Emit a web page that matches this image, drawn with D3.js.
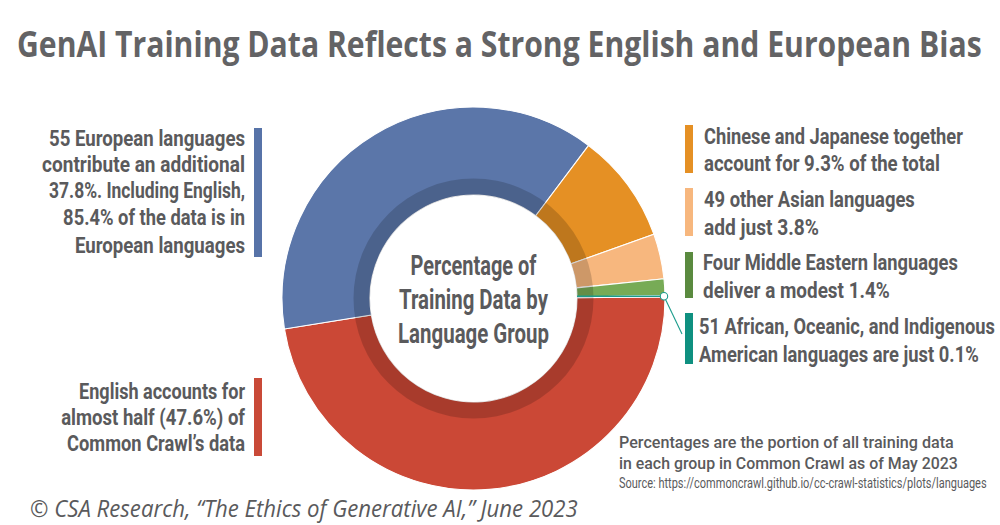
<!DOCTYPE html>
<html><head><meta charset="utf-8">
<script src="https://cdn.jsdelivr.net/npm/d3@7/dist/d3.min.js"></script>
<style>html,body{margin:0;padding:0;background:#fff}svg{display:block}text{font-family:"Open Sans",sans-serif}text.r{font-family:Roboto,sans-serif}</style>
</head><body><svg id="c" width="1000" height="525"></svg>
<script>
const groups=["English","European","Chinese and Japanese","Other Asian","Middle Eastern","African, Oceanic, Indigenous American"];
const shares=[47.6,37.8,9.3,3.8,1.4,0.1];
const sliceColors=["#CB4836","#5B76A9","#E59024","#F7B77E","#77AB56","#1B9C8C"];
const barColors=["#C94A38","#5773A8","#E59024","#F7B77E","#5A8A3F","#0F9080"];
const titleText="GenAI Training Data Reflects a Strong English and European Bias";
const centerLines=["Percentage of","Training Data by","Language Group"];
const calloutLines=[
 ["English accounts for","almost half (47.6%) of","Common Crawl’s data"],
 ["55 European languages","contribute an additional","37.8%. Including English,","85.4% of the data is in","European languages"],
 ["Chinese and Japanese together","account for 9.3% of the total"],
 ["49 other Asian languages","add just 3.8%"],
 ["Four Middle Eastern languages","deliver a modest 1.4%"],
 ["51 African, Oceanic, and Indigenous","American languages are just 0.1%"]];
const noteLines=["Percentages are the portion of all training data","in each group in Common Crawl as of May 2023"];
const sourceText="Source: https://commoncrawl.github.io/cc-crawl-statistics/plots/languages";
const creditText="© CSA Research, “The Ethics of Generative AI,” June 2023";

// layout, kept apart from the data
const ink="#5A5A5C",cx=473.5,cy=298.5,R=191.5,Rm=120,Ri=103.5;
const calloutLayout=[
 {anchor:"end",x:245,base:[399,425,451],w:[166,184,178],bar:[254,378,456]},
 {anchor:"end",x:245,base:[146,172,198,225,253],w:[196,203,196,182,170],bar:[254,128,257]},
 {anchor:"start",x:704,base:[144,171],w:[259,236],bar:[685,125,173]},
 {anchor:"start",x:704,base:[207,235],w:[211,115],bar:[685,188,236]},
 {anchor:"start",x:703,base:[270,298],w:[255,187],bar:[685,252,298]},
 {anchor:"start",x:699,base:[334,362],w:[296,280],bar:[685,313,364]}];

const svg=d3.select("#c");
// draws a line of text and narrows it horizontally to the width it has in the reference
function line(t,x,y,w,size,weight,anchor,style,fill,cls){
 const el=svg.append("text").attr("class",cls||null).attr("text-anchor",anchor||"start")
  .attr("font-size",size).attr("font-weight",weight).attr("font-style",style||"normal")
  .attr("fill",fill||ink).text(t);
 const k=w/el.node().getComputedTextLength();
 el.attr("transform",`translate(${x},${y}) scale(${k},1)`);
 return el;
}
line(titleText,17,57,965,35,700,"start","normal","#636365");

const start=89.5*Math.PI/180;
const pie=d3.pie().sort(null).value(d=>d).startAngle(start).endAngle(start+2*Math.PI);
const arcs=pie(shares);
const g=svg.append("g").attr("transform",`translate(${cx},${cy})`);
const arc=d3.arc().outerRadius(R).innerRadius(Ri);
g.selectAll("path.s").data(arcs).join("path").attr("class","s").attr("d",arc)
 .attr("fill",(d,i)=>sliceColors[i]).attr("stroke","#fff").attr("stroke-width",1.1);
g.append("path").attr("fill","#000").attr("opacity",0.17)
 .attr("d",d3.arc().outerRadius(Rm).innerRadius(Ri).startAngle(0).endAngle(2*Math.PI)());

const mid=arcs[5];
const a=(mid.startAngle+mid.endAngle)/2-Math.PI/2;
const mx=cx+(R-1)*Math.cos(a),my=cy+(R-1)*Math.sin(a);
svg.append("line").attr("x1",mx).attr("y1",my).attr("x2",682).attr("y2",334).attr("stroke","#1B9C8C").attr("stroke-width",1.1);
svg.append("line").attr("x1",cx+Ri).attr("y1",my).attr("x2",mx).attr("y2",my).attr("stroke","#1B9C8C").attr("stroke-width",1.3);
svg.append("circle").attr("cx",mx).attr("cy",my).attr("r",3.7).attr("fill","#fff").attr("stroke","#1B9C8C").attr("stroke-width",1.1);

const centerW=[126,149,151];
centerLines.forEach((t,i)=>line(t,cx,[275,309,343][i],centerW[i],27,700,"middle",null,null,"r"));

calloutLines.forEach((ls,i)=>{
 const L=calloutLayout[i];
 ls.forEach((t,j)=>line(t,L.x,L.base[j],L.w[j],22,700,L.anchor,null,null,"r"));
 svg.append("rect").attr("x",L.bar[0]).attr("y",L.bar[1]).attr("width",8).attr("height",L.bar[2]-L.bar[1]).attr("fill",barColors[i]);
});
noteLines.forEach((t,i)=>line(t,619,[448,469][i],[335,339][i],17,500,"start",null,null,"r"));
line(sourceText,619,488,368,14,400,"start",null,null,"r");
line(creditText,30,517,548,24,400,"start","italic");
</script></body></html>
